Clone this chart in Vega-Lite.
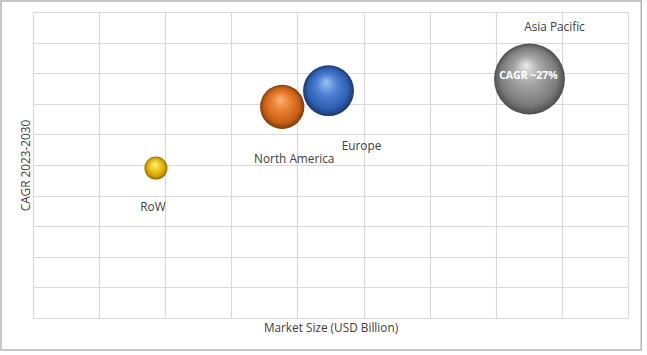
{
  "$schema": "https://vega.github.io/schema/vega-lite/v6.json",
  "width": 595,
  "height": 306,
  "autosize": {"type": "none"},
  "padding": {"left": 33, "top": 12, "right": 19, "bottom": 37},
  "background": "white",
  "config": {
    "view": {"stroke": null},
    "font": "Open Sans",
    "axis": {
      "grid": true,
      "gridColor": "#d9d9d9",
      "gridWidth": 1.2,
      "domain": false,
      "ticks": false,
      "labels": false,
      "titleFont": "Open Sans",
      "titleFontSize": 11.8,
      "titleFontWeight": "normal",
      "titleColor": "#404040"
    },
    "text": {"font": "Open Sans", "fontSize": 11.8, "color": "#404040", "baseline": "middle", "align": "center"}
  },
  "datasets": {
    "regions": [
      {"region": "RoW", "size": 1.86, "cagr": 4.9, "bubble": 10.6},
      {"region": "North America", "size": 3.77, "cagr": 6.9, "bubble": 39},
      {"region": "Europe", "size": 4.47, "cagr": 7.43, "bubble": 51.5},
      {"region": "Asia Pacific", "size": 7.51, "cagr": 7.81, "bubble": 100}
    ],
    "chartArea": [
      {"left": -0.484, "right": 9.2, "top": 10.36, "bottom": -1.046}
    ]
  },
  "data": {"name": "regions"},
  "layer": [
    {
      "data": {"name": "chartArea"},
      "mark": {"type": "rect", "fill": "transparent", "stroke": "#b4b4b4", "strokeWidth": 1.5, "clip": false},
      "encoding": {
        "x": {
          "field": "left", "type": "quantitative",
          "scale": {"domain": [0, 9], "nice": false, "zero": false},
          "axis": {"values": [0, 1, 2, 3, 4, 5, 6, 7, 8, 9], "title": "Market Size (USD Billion)", "titlePadding": 4}
        },
        "x2": {"field": "right"},
        "y": {
          "field": "top", "type": "quantitative",
          "scale": {"domain": [0, 10], "nice": false, "zero": false},
          "axis": {"values": [0, 1, 2, 3, 4, 5, 6, 7, 8, 9, 10], "title": "CAGR 2023-2030", "titlePadding": 2}
        },
        "y2": {"field": "bottom"}
      }
    },
    {
      "encoding": {
        "x": {
          "field": "size",
          "type": "quantitative",
          "scale": {"domain": [0, 9], "nice": false, "zero": false},
          "axis": {"values": [0, 1, 2, 3, 4, 5, 6, 7, 8, 9], "title": "Market Size (USD Billion)", "titlePadding": 4}
        },
        "y": {
          "field": "cagr",
          "type": "quantitative",
          "scale": {"domain": [0, 10], "nice": false, "zero": false},
          "axis": {"values": [0, 1, 2, 3, 4, 5, 6, 7, 8, 9, 10], "title": "CAGR 2023-2030", "titlePadding": 2}
        }
      },
      "layer": [
        {
          "transform": [{"filter": "datum.region === 'RoW'"}],
          "mark": {
            "type": "circle", "opacity": 1,
            "fill": {"gradient": "radial", "x1": 0.45, "y1": 0.32, "r1": 0, "x2": 0.5, "y2": 0.5, "r2": 0.5,
              "stops": [{"offset": 0, "color": "#fff2a0"}, {"offset": 0.4, "color": "#f5cc20"}, {"offset": 0.8, "color": "#d4a000"}, {"offset": 1, "color": "#8a6400"}]}
          },
          "encoding": {
            "size": {"field": "bubble", "type": "quantitative", "scale": {"domain": [0, 100], "range": [0, 5027]}, "legend": null}
          }
        },
        {
          "transform": [{"filter": "datum.region === 'North America'"}],
          "mark": {
            "type": "circle", "opacity": 1,
            "fill": {"gradient": "radial", "x1": 0.45, "y1": 0.32, "r1": 0, "x2": 0.5, "y2": 0.5, "r2": 0.5,
              "stops": [{"offset": 0, "color": "#f8b47a"}, {"offset": 0.4, "color": "#ea8230"}, {"offset": 0.8, "color": "#c85e14"}, {"offset": 1, "color": "#7e3a08"}]}
          },
          "encoding": {
            "size": {"field": "bubble", "type": "quantitative", "scale": {"domain": [0, 100], "range": [0, 5027]}, "legend": null}
          }
        },
        {
          "transform": [{"filter": "datum.region === 'Europe'"}],
          "mark": {
            "type": "circle", "opacity": 1,
            "fill": {"gradient": "radial", "x1": 0.45, "y1": 0.32, "r1": 0, "x2": 0.5, "y2": 0.5, "r2": 0.5,
              "stops": [{"offset": 0, "color": "#9cc0f0"}, {"offset": 0.4, "color": "#4f82d4"}, {"offset": 0.8, "color": "#2d5eb0"}, {"offset": 1, "color": "#1a3670"}]}
          },
          "encoding": {
            "size": {"field": "bubble", "type": "quantitative", "scale": {"domain": [0, 100], "range": [0, 5027]}, "legend": null}
          }
        },
        {
          "transform": [{"filter": "datum.region === 'Asia Pacific'"}],
          "mark": {
            "type": "circle", "opacity": 1,
            "fill": {"gradient": "radial", "x1": 0.45, "y1": 0.3, "r1": 0, "x2": 0.5, "y2": 0.5, "r2": 0.5,
              "stops": [{"offset": 0, "color": "#e8e8e8"}, {"offset": 0.4, "color": "#a4a4a4"}, {"offset": 0.8, "color": "#7c7c7c"}, {"offset": 1, "color": "#4e4e4e"}]}
          },
          "encoding": {
            "size": {"field": "bubble", "type": "quantitative", "scale": {"domain": [0, 100], "range": [0, 5027]}, "legend": null}
          }
        },
        {
          "transform": [{"filter": "datum.region === 'RoW'"}],
          "mark": {"type": "text", "dx": -3, "dy": 39},
          "encoding": {"text": {"field": "region"}}
        },
        {
          "transform": [{"filter": "datum.region === 'North America'"}],
          "mark": {"type": "text", "dx": 12, "dy": 52},
          "encoding": {"text": {"field": "region"}}
        },
        {
          "transform": [{"filter": "datum.region === 'Europe'"}],
          "mark": {"type": "text", "dx": 33, "dy": 55},
          "encoding": {"text": {"field": "region"}}
        },
        {
          "transform": [{"filter": "datum.region === 'Asia Pacific'"}],
          "mark": {"type": "text", "dx": 25, "dy": -52},
          "encoding": {"text": {"field": "region"}}
        },
        {
          "transform": [{"filter": "datum.region === 'Asia Pacific'"}],
          "mark": {"type": "text", "dx": -1, "dy": -3, "color": "white", "fontWeight": "bold", "fontSize": 10.5},
          "encoding": {"text": {"value": "CAGR ~27%"}}
        }
      ]
    }
  ]
}
